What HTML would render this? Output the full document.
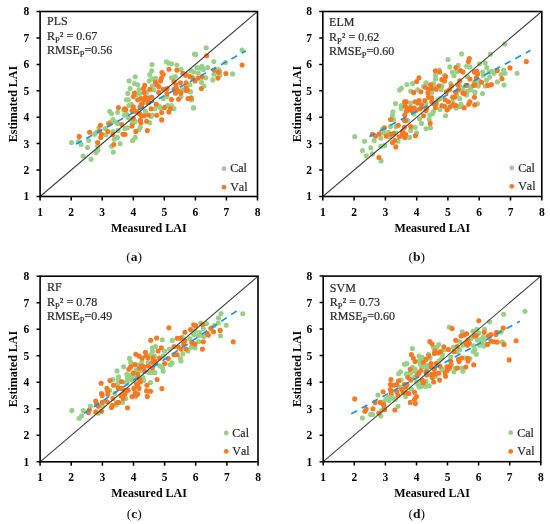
<!DOCTYPE html>
<html><head><meta charset="utf-8"><title>LAI scatter plots</title>
<style>
html,body{margin:0;padding:0;background:#fff;}
svg{display:block;}
text{font-family:"Liberation Serif","DejaVu Serif",serif;font-kerning:none;}
.tk{font-size:11.5px;font-weight:bold;fill:#000;}
.ax{font-size:12px;font-weight:bold;fill:#000;}
.an{font-size:12px;fill:#2a2a2a;stroke:#2a2a2a;stroke-width:0.2px;}
.cp{font-size:13.5px;fill:#111;}
</style></head><body>
<svg width="550" height="524" viewBox="0 0 550 524">
<rect width="550" height="524" fill="#fff"/>

<g id="plot-a">
<g fill="#97D086"><circle cx="71.5" cy="142.5" r="2.55"/><circle cx="78.5" cy="141.6" r="2.55"/><circle cx="81.1" cy="144.4" r="2.55"/><circle cx="88.7" cy="140.5" r="2.55"/><circle cx="87.5" cy="147.5" r="2.55"/><circle cx="83.0" cy="156.1" r="2.55"/><circle cx="91.0" cy="159.3" r="2.55"/><circle cx="98.0" cy="150.1" r="2.55"/><circle cx="96.0" cy="152.6" r="2.55"/><circle cx="97.6" cy="146.3" r="2.55"/><circle cx="94.5" cy="134.2" r="2.55"/><circle cx="96.4" cy="132.3" r="2.55"/><circle cx="98.9" cy="127.8" r="2.55"/><circle cx="105.3" cy="128.5" r="2.55"/><circle cx="105.9" cy="134.8" r="2.55"/><circle cx="109.7" cy="111.3" r="2.55"/><circle cx="111.6" cy="113.8" r="2.55"/><circle cx="117.7" cy="112.3" r="2.55"/><circle cx="123.7" cy="110.0" r="2.55"/><circle cx="112.9" cy="119.5" r="2.55"/><circle cx="114.8" cy="121.5" r="2.55"/><circle cx="111.0" cy="122.1" r="2.55"/><circle cx="108.5" cy="123.4" r="2.55"/><circle cx="117.4" cy="123.4" r="2.55"/><circle cx="112.9" cy="131.6" r="2.55"/><circle cx="118.0" cy="130.4" r="2.55"/><circle cx="114.2" cy="139.3" r="2.55"/><circle cx="117.4" cy="137.4" r="2.55"/><circle cx="120.2" cy="143.7" r="2.55"/><circle cx="111.6" cy="146.3" r="2.55"/><circle cx="113.3" cy="152.0" r="2.55"/><circle cx="124.4" cy="115.1" r="2.55"/><circle cx="132.6" cy="140.5" r="2.55"/><circle cx="135.2" cy="137.4" r="2.55"/><circle cx="127.5" cy="127.8" r="2.55"/><circle cx="125.0" cy="128.5" r="2.55"/><circle cx="140.3" cy="127.2" r="2.55"/><circle cx="139.0" cy="129.7" r="2.55"/><circle cx="149.8" cy="122.7" r="2.55"/><circle cx="135.2" cy="121.5" r="2.55"/><circle cx="132.6" cy="123.4" r="2.55"/><circle cx="128.2" cy="117.6" r="2.55"/><circle cx="126.3" cy="113.8" r="2.55"/><circle cx="128.8" cy="105.5" r="2.55"/><circle cx="131.4" cy="104.3" r="2.55"/><circle cx="128.2" cy="99.8" r="2.55"/><circle cx="126.3" cy="99.8" r="2.55"/><circle cx="145.4" cy="111.3" r="2.55"/><circle cx="152.4" cy="115.1" r="2.55"/><circle cx="151.1" cy="116.4" r="2.55"/><circle cx="154.9" cy="108.7" r="2.55"/><circle cx="159.4" cy="106.2" r="2.55"/><circle cx="160.6" cy="108.1" r="2.55"/><circle cx="167.6" cy="105.5" r="2.55"/><circle cx="171.5" cy="105.5" r="2.55"/><circle cx="174.0" cy="108.5" r="2.55"/><circle cx="163.2" cy="98.5" r="2.55"/><circle cx="146.6" cy="102.4" r="2.55"/><circle cx="193.7" cy="107.8" r="2.55"/><circle cx="191.2" cy="99.8" r="2.55"/><circle cx="167.0" cy="96.6" r="2.55"/><circle cx="181.0" cy="96.6" r="2.55"/><circle cx="152.0" cy="64.6" r="2.55"/><circle cx="151.7" cy="70.7" r="2.55"/><circle cx="149.8" cy="74.5" r="2.55"/><circle cx="135.2" cy="76.8" r="2.55"/><circle cx="129.1" cy="80.9" r="2.55"/><circle cx="134.5" cy="83.5" r="2.55"/><circle cx="137.7" cy="84.7" r="2.55"/><circle cx="130.1" cy="88.5" r="2.55"/><circle cx="127.8" cy="93.4" r="2.55"/><circle cx="139.0" cy="89.8" r="2.55"/><circle cx="139.6" cy="93.6" r="2.55"/><circle cx="149.2" cy="80.9" r="2.55"/><circle cx="152.4" cy="79.0" r="2.55"/><circle cx="155.5" cy="78.4" r="2.55"/><circle cx="166.4" cy="61.8" r="2.55"/><circle cx="168.9" cy="63.3" r="2.55"/><circle cx="171.5" cy="63.7" r="2.55"/><circle cx="176.9" cy="65.0" r="2.55"/><circle cx="181.0" cy="69.5" r="2.55"/><circle cx="171.5" cy="77.7" r="2.55"/><circle cx="175.3" cy="76.5" r="2.55"/><circle cx="194.4" cy="54.2" r="2.55"/><circle cx="191.2" cy="70.7" r="2.55"/><circle cx="193.7" cy="72.0" r="2.55"/><circle cx="152.4" cy="86.0" r="2.55"/><circle cx="153.6" cy="89.8" r="2.55"/><circle cx="146.6" cy="92.4" r="2.55"/><circle cx="189.9" cy="84.7" r="2.55"/><circle cx="190.5" cy="91.7" r="2.55"/><circle cx="182.3" cy="89.8" r="2.55"/><circle cx="186.7" cy="74.5" r="2.55"/><circle cx="206.2" cy="47.8" r="2.55"/><circle cx="195.6" cy="54.4" r="2.55"/><circle cx="213.8" cy="61.6" r="2.55"/><circle cx="225.5" cy="62.5" r="2.55"/><circle cx="242.1" cy="50.1" r="2.55"/><circle cx="207.7" cy="67.5" r="2.55"/><circle cx="202.0" cy="66.3" r="2.55"/><circle cx="200.1" cy="68.2" r="2.55"/><circle cx="203.3" cy="69.5" r="2.55"/><circle cx="196.9" cy="67.5" r="2.55"/><circle cx="198.2" cy="73.0" r="2.55"/><circle cx="205.8" cy="77.7" r="2.55"/><circle cx="218.5" cy="69.5" r="2.55"/><circle cx="219.8" cy="71.4" r="2.55"/><circle cx="214.1" cy="74.3" r="2.55"/><circle cx="219.8" cy="75.2" r="2.55"/><circle cx="212.8" cy="79.9" r="2.55"/><circle cx="232.5" cy="73.9" r="2.55"/><circle cx="201.4" cy="82.2" r="2.55"/><circle cx="203.9" cy="86.0" r="2.55"/><circle cx="193.5" cy="107.9" r="2.55"/><circle cx="190.1" cy="91.7" r="2.55"/><circle cx="191.4" cy="99.7" r="2.55"/><circle cx="136.8" cy="94.5" r="2.55"/><circle cx="130.5" cy="120.0" r="2.55"/></g>
<g fill="#F77922"><circle cx="79.2" cy="136.5" r="2.55"/><circle cx="89.6" cy="132.3" r="2.55"/><circle cx="100.4" cy="125.3" r="2.55"/><circle cx="99.5" cy="131.0" r="2.55"/><circle cx="101.5" cy="134.2" r="2.55"/><circle cx="100.8" cy="137.4" r="2.55"/><circle cx="97.6" cy="142.5" r="2.55"/><circle cx="109.1" cy="123.7" r="2.55"/><circle cx="107.8" cy="131.6" r="2.55"/><circle cx="112.9" cy="134.6" r="2.55"/><circle cx="113.8" cy="144.6" r="2.55"/><circle cx="118.4" cy="107.5" r="2.55"/><circle cx="121.8" cy="124.6" r="2.55"/><circle cx="123.1" cy="134.2" r="2.55"/><circle cx="124.7" cy="108.7" r="2.55"/><circle cx="125.6" cy="109.4" r="2.55"/><circle cx="133.3" cy="106.8" r="2.55"/><circle cx="133.9" cy="110.0" r="2.55"/><circle cx="132.0" cy="110.6" r="2.55"/><circle cx="133.3" cy="118.3" r="2.55"/><circle cx="132.0" cy="125.9" r="2.55"/><circle cx="135.8" cy="131.4" r="2.55"/><circle cx="125.0" cy="134.2" r="2.55"/><circle cx="140.3" cy="120.2" r="2.55"/><circle cx="140.9" cy="122.7" r="2.55"/><circle cx="146.6" cy="121.2" r="2.55"/><circle cx="147.3" cy="130.6" r="2.55"/><circle cx="139.6" cy="113.8" r="2.55"/><circle cx="141.5" cy="115.7" r="2.55"/><circle cx="144.1" cy="115.7" r="2.55"/><circle cx="148.5" cy="115.1" r="2.55"/><circle cx="156.8" cy="115.3" r="2.55"/><circle cx="161.7" cy="112.5" r="2.55"/><circle cx="161.7" cy="119.9" r="2.55"/><circle cx="151.1" cy="108.7" r="2.55"/><circle cx="156.2" cy="104.3" r="2.55"/><circle cx="164.5" cy="107.5" r="2.55"/><circle cx="168.9" cy="111.9" r="2.55"/><circle cx="170.2" cy="108.7" r="2.55"/><circle cx="171.5" cy="99.6" r="2.55"/><circle cx="178.5" cy="99.2" r="2.55"/><circle cx="188.0" cy="98.5" r="2.55"/><circle cx="191.2" cy="97.9" r="2.55"/><circle cx="137.7" cy="99.8" r="2.55"/><circle cx="140.9" cy="98.5" r="2.55"/><circle cx="144.1" cy="99.8" r="2.55"/><circle cx="142.2" cy="103.6" r="2.55"/><circle cx="145.4" cy="97.3" r="2.55"/><circle cx="149.2" cy="97.9" r="2.55"/><circle cx="151.7" cy="97.3" r="2.55"/><circle cx="141.5" cy="106.2" r="2.55"/><circle cx="148.5" cy="102.4" r="2.55"/><circle cx="133.3" cy="96.6" r="2.55"/><circle cx="168.9" cy="69.2" r="2.55"/><circle cx="176.9" cy="70.1" r="2.55"/><circle cx="161.9" cy="72.6" r="2.55"/><circle cx="163.2" cy="74.5" r="2.55"/><circle cx="161.3" cy="78.4" r="2.55"/><circle cx="160.6" cy="80.9" r="2.55"/><circle cx="155.5" cy="82.2" r="2.55"/><circle cx="156.8" cy="84.7" r="2.55"/><circle cx="158.7" cy="86.6" r="2.55"/><circle cx="144.7" cy="85.4" r="2.55"/><circle cx="143.5" cy="88.5" r="2.55"/><circle cx="144.1" cy="92.4" r="2.55"/><circle cx="149.8" cy="89.2" r="2.55"/><circle cx="134.5" cy="93.0" r="2.55"/><circle cx="158.7" cy="92.4" r="2.55"/><circle cx="163.2" cy="89.2" r="2.55"/><circle cx="167.0" cy="88.5" r="2.55"/><circle cx="174.0" cy="81.5" r="2.55"/><circle cx="175.9" cy="84.7" r="2.55"/><circle cx="180.4" cy="82.8" r="2.55"/><circle cx="182.9" cy="73.3" r="2.55"/><circle cx="185.5" cy="75.2" r="2.55"/><circle cx="189.9" cy="76.5" r="2.55"/><circle cx="192.5" cy="77.7" r="2.55"/><circle cx="186.1" cy="82.8" r="2.55"/><circle cx="186.1" cy="87.9" r="2.55"/><circle cx="174.0" cy="89.2" r="2.55"/><circle cx="177.2" cy="91.1" r="2.55"/><circle cx="167.0" cy="93.6" r="2.55"/><circle cx="181.0" cy="93.0" r="2.55"/><circle cx="187.4" cy="89.8" r="2.55"/><circle cx="206.7" cy="55.8" r="2.55"/><circle cx="242.1" cy="65.0" r="2.55"/><circle cx="214.1" cy="70.1" r="2.55"/><circle cx="218.5" cy="72.3" r="2.55"/><circle cx="225.9" cy="73.5" r="2.55"/><circle cx="217.9" cy="78.1" r="2.55"/><circle cx="202.0" cy="77.1" r="2.55"/><circle cx="198.2" cy="78.1" r="2.55"/><circle cx="195.0" cy="80.9" r="2.55"/><circle cx="201.4" cy="88.5" r="2.55"/><circle cx="186.3" cy="90.5" r="2.55"/><circle cx="141.4" cy="104.5" r="2.55"/><circle cx="140.0" cy="106.8" r="2.55"/><circle cx="134.1" cy="110.9" r="2.55"/><circle cx="136.8" cy="111.8" r="2.55"/><circle cx="176.4" cy="88.6" r="2.55"/><circle cx="175.5" cy="93.2" r="2.55"/><circle cx="178.2" cy="91.4" r="2.55"/></g>
<line x1="76.0" y1="144.1" x2="245.9" y2="51.0" stroke="#1C94DC" stroke-width="1.7" stroke-dasharray="6.5 5.31"/>
<line x1="40.1" y1="196.5" x2="257.5" y2="11.5" stroke="#404040" stroke-width="1.1"/>
<rect x="40.1" y="11.5" width="217.4" height="185.0" fill="none" stroke="#000" stroke-width="1.6"/>
<path d="M40.1 196.5 v3.9 M40.1 196.5 h-3.6 M71.2 196.5 v3.9 M40.1 170.1 h-3.6 M102.2 196.5 v3.9 M40.1 143.6 h-3.6 M133.3 196.5 v3.9 M40.1 117.2 h-3.6 M164.3 196.5 v3.9 M40.1 90.8 h-3.6 M195.4 196.5 v3.9 M40.1 64.4 h-3.6 M226.4 196.5 v3.9 M40.1 37.9 h-3.6 M257.5 196.5 v3.9 M40.1 11.5 h-3.6" stroke="#000" stroke-width="1.5" fill="none"/>
<text class="tk" x="40.1" y="215.5" text-anchor="middle">1</text>
<text class="tk" x="29.2" y="200.4" text-anchor="end">1</text>
<text class="tk" x="71.2" y="215.5" text-anchor="middle">2</text>
<text class="tk" x="29.2" y="174.0" text-anchor="end">2</text>
<text class="tk" x="102.2" y="215.5" text-anchor="middle">3</text>
<text class="tk" x="29.2" y="147.5" text-anchor="end">3</text>
<text class="tk" x="133.3" y="215.5" text-anchor="middle">4</text>
<text class="tk" x="29.2" y="121.1" text-anchor="end">4</text>
<text class="tk" x="164.3" y="215.5" text-anchor="middle">5</text>
<text class="tk" x="29.2" y="94.7" text-anchor="end">5</text>
<text class="tk" x="195.4" y="215.5" text-anchor="middle">6</text>
<text class="tk" x="29.2" y="68.3" text-anchor="end">6</text>
<text class="tk" x="226.4" y="215.5" text-anchor="middle">7</text>
<text class="tk" x="29.2" y="41.8" text-anchor="end">7</text>
<text class="tk" x="257.5" y="215.5" text-anchor="middle">8</text>
<text class="tk" x="29.2" y="15.4" text-anchor="end">8</text>
<text class="ax" x="148.8" y="231.6" text-anchor="middle" word-spacing="0">Measured LAI</text>
<text class="ax" transform="translate(17.3,104.0) rotate(-90)" text-anchor="middle" word-spacing="0">Estimated LAI</text>
<text class="an" x="47.1" y="25.0">PLS</text>
<text class="an" x="47.1" y="39.9">R<tspan font-size="8.5px" dy="3">P</tspan><tspan dy="-3">² = 0.67</tspan></text>
<text class="an" x="47.1" y="54.1">RMSE<tspan font-size="8.5px" dy="3">P</tspan><tspan dy="-3">=0.56</tspan></text>
<circle cx="224.0" cy="168.7" r="2.4" fill="#97D086"/><circle cx="224.0" cy="187.2" r="2.4" fill="#F77922"/>
<text class="an" x="230.2" y="172.2">Cal</text><text class="an" x="230.2" y="190.9">Val</text>
<text class="cp" x="134.1" y="260.6" text-anchor="middle">(<tspan font-weight="bold">a</tspan>)</text>
</g>
<g id="plot-b">
<g fill="#97D086"><circle cx="354.7" cy="136.5" r="2.55"/><circle cx="364.5" cy="141.2" r="2.55"/><circle cx="362.4" cy="150.5" r="2.55"/><circle cx="366.2" cy="155.8" r="2.55"/><circle cx="370.9" cy="147.9" r="2.55"/><circle cx="372.5" cy="153.9" r="2.55"/><circle cx="374.2" cy="140.5" r="2.55"/><circle cx="380.8" cy="138.3" r="2.55"/><circle cx="380.8" cy="146.3" r="2.55"/><circle cx="384.6" cy="145.6" r="2.55"/><circle cx="381.1" cy="160.9" r="2.55"/><circle cx="382.7" cy="129.1" r="2.55"/><circle cx="384.0" cy="132.9" r="2.55"/><circle cx="388.5" cy="132.3" r="2.55"/><circle cx="390.4" cy="126.5" r="2.55"/><circle cx="392.9" cy="111.9" r="2.55"/><circle cx="392.3" cy="115.7" r="2.55"/><circle cx="395.5" cy="103.6" r="2.55"/><circle cx="401.2" cy="105.5" r="2.55"/><circle cx="401.2" cy="108.5" r="2.55"/><circle cx="393.5" cy="119.5" r="2.55"/><circle cx="396.1" cy="126.5" r="2.55"/><circle cx="398.0" cy="141.2" r="2.55"/><circle cx="395.5" cy="132.9" r="2.55"/><circle cx="389.7" cy="136.7" r="2.55"/><circle cx="404.4" cy="103.6" r="2.55"/><circle cx="409.5" cy="137.4" r="2.55"/><circle cx="410.7" cy="130.4" r="2.55"/><circle cx="415.2" cy="127.2" r="2.55"/><circle cx="416.5" cy="132.9" r="2.55"/><circle cx="419.6" cy="118.9" r="2.55"/><circle cx="421.5" cy="123.4" r="2.55"/><circle cx="426.0" cy="128.8" r="2.55"/><circle cx="430.5" cy="127.8" r="2.55"/><circle cx="429.2" cy="119.5" r="2.55"/><circle cx="429.8" cy="115.1" r="2.55"/><circle cx="432.4" cy="113.8" r="2.55"/><circle cx="433.6" cy="111.3" r="2.55"/><circle cx="440.0" cy="109.4" r="2.55"/><circle cx="445.5" cy="115.7" r="2.55"/><circle cx="455.9" cy="108.1" r="2.55"/><circle cx="459.7" cy="106.8" r="2.55"/><circle cx="461.0" cy="104.3" r="2.55"/><circle cx="452.7" cy="102.4" r="2.55"/><circle cx="459.7" cy="98.5" r="2.55"/><circle cx="410.7" cy="103.0" r="2.55"/><circle cx="407.5" cy="120.2" r="2.55"/><circle cx="438.1" cy="99.8" r="2.55"/><circle cx="440.0" cy="98.5" r="2.55"/><circle cx="426.0" cy="103.6" r="2.55"/><circle cx="413.9" cy="113.8" r="2.55"/><circle cx="448.3" cy="108.7" r="2.55"/><circle cx="461.6" cy="53.9" r="2.55"/><circle cx="448.0" cy="59.5" r="2.55"/><circle cx="449.8" cy="66.9" r="2.55"/><circle cx="458.2" cy="65.4" r="2.55"/><circle cx="452.3" cy="72.0" r="2.55"/><circle cx="454.0" cy="75.8" r="2.55"/><circle cx="457.2" cy="71.4" r="2.55"/><circle cx="466.7" cy="66.3" r="2.55"/><circle cx="469.9" cy="66.9" r="2.55"/><circle cx="435.5" cy="75.2" r="2.55"/><circle cx="435.5" cy="79.0" r="2.55"/><circle cx="439.4" cy="70.1" r="2.55"/><circle cx="406.9" cy="84.5" r="2.55"/><circle cx="412.6" cy="83.5" r="2.55"/><circle cx="410.7" cy="91.1" r="2.55"/><circle cx="417.7" cy="89.8" r="2.55"/><circle cx="426.0" cy="82.8" r="2.55"/><circle cx="423.5" cy="86.6" r="2.55"/><circle cx="433.6" cy="83.5" r="2.55"/><circle cx="434.3" cy="87.3" r="2.55"/><circle cx="440.6" cy="86.0" r="2.55"/><circle cx="441.3" cy="89.8" r="2.55"/><circle cx="444.5" cy="75.2" r="2.55"/><circle cx="467.4" cy="76.5" r="2.55"/><circle cx="450.8" cy="83.5" r="2.55"/><circle cx="471.2" cy="89.8" r="2.55"/><circle cx="459.7" cy="86.0" r="2.55"/><circle cx="431.7" cy="92.4" r="2.55"/><circle cx="474.4" cy="82.2" r="2.55"/><circle cx="504.7" cy="44.0" r="2.55"/><circle cx="490.3" cy="54.2" r="2.55"/><circle cx="479.5" cy="63.7" r="2.55"/><circle cx="485.2" cy="63.1" r="2.55"/><circle cx="486.7" cy="67.5" r="2.55"/><circle cx="482.6" cy="72.0" r="2.55"/><circle cx="483.3" cy="75.2" r="2.55"/><circle cx="489.0" cy="72.0" r="2.55"/><circle cx="491.5" cy="71.4" r="2.55"/><circle cx="494.1" cy="73.3" r="2.55"/><circle cx="503.6" cy="70.1" r="2.55"/><circle cx="504.9" cy="73.3" r="2.55"/><circle cx="501.1" cy="74.5" r="2.55"/><circle cx="517.0" cy="73.3" r="2.55"/><circle cx="489.6" cy="77.1" r="2.55"/><circle cx="486.5" cy="80.3" r="2.55"/><circle cx="497.3" cy="81.9" r="2.55"/><circle cx="504.0" cy="85.0" r="2.55"/><circle cx="478.2" cy="86.0" r="2.55"/><circle cx="485.2" cy="86.0" r="2.55"/><circle cx="482.6" cy="93.6" r="2.55"/><circle cx="475.0" cy="92.4" r="2.55"/><circle cx="478.8" cy="80.3" r="2.55"/><circle cx="477.5" cy="103.8" r="2.55"/><circle cx="401.5" cy="88.2" r="2.55"/><circle cx="399.5" cy="90.1" r="2.55"/><circle cx="462.7" cy="88.6" r="2.55"/><circle cx="467.3" cy="91.4" r="2.55"/><circle cx="470.0" cy="86.8" r="2.55"/><circle cx="466.4" cy="95.0" r="2.55"/><circle cx="441.8" cy="85.9" r="2.55"/><circle cx="456.4" cy="95.0" r="2.55"/><circle cx="478.2" cy="85.0" r="2.55"/></g>
<g fill="#F77922"><circle cx="372.5" cy="134.2" r="2.55"/><circle cx="375.7" cy="136.1" r="2.55"/><circle cx="379.3" cy="133.9" r="2.55"/><circle cx="384.4" cy="127.8" r="2.55"/><circle cx="386.2" cy="136.1" r="2.55"/><circle cx="390.6" cy="119.5" r="2.55"/><circle cx="391.0" cy="134.2" r="2.55"/><circle cx="393.5" cy="133.5" r="2.55"/><circle cx="398.3" cy="125.3" r="2.55"/><circle cx="392.5" cy="142.5" r="2.55"/><circle cx="394.8" cy="140.5" r="2.55"/><circle cx="395.8" cy="146.9" r="2.55"/><circle cx="378.9" cy="157.5" r="2.55"/><circle cx="399.3" cy="136.7" r="2.55"/><circle cx="402.5" cy="134.2" r="2.55"/><circle cx="404.4" cy="136.7" r="2.55"/><circle cx="402.5" cy="131.6" r="2.55"/><circle cx="404.4" cy="120.2" r="2.55"/><circle cx="404.7" cy="115.1" r="2.55"/><circle cx="404.7" cy="101.7" r="2.55"/><circle cx="404.4" cy="127.2" r="2.55"/><circle cx="405.6" cy="120.8" r="2.55"/><circle cx="410.7" cy="126.5" r="2.55"/><circle cx="405.6" cy="134.2" r="2.55"/><circle cx="405.0" cy="137.4" r="2.55"/><circle cx="415.4" cy="135.7" r="2.55"/><circle cx="430.2" cy="123.4" r="2.55"/><circle cx="423.5" cy="115.7" r="2.55"/><circle cx="426.0" cy="110.6" r="2.55"/><circle cx="426.6" cy="108.1" r="2.55"/><circle cx="435.5" cy="107.5" r="2.55"/><circle cx="436.2" cy="103.6" r="2.55"/><circle cx="441.9" cy="105.5" r="2.55"/><circle cx="444.5" cy="106.2" r="2.55"/><circle cx="447.0" cy="110.0" r="2.55"/><circle cx="450.2" cy="106.8" r="2.55"/><circle cx="453.4" cy="104.9" r="2.55"/><circle cx="455.9" cy="105.5" r="2.55"/><circle cx="464.2" cy="107.7" r="2.55"/><circle cx="468.6" cy="104.3" r="2.55"/><circle cx="469.9" cy="101.7" r="2.55"/><circle cx="474.7" cy="104.9" r="2.55"/><circle cx="474.4" cy="97.3" r="2.55"/><circle cx="445.1" cy="99.8" r="2.55"/><circle cx="448.3" cy="101.7" r="2.55"/><circle cx="452.7" cy="97.3" r="2.55"/><circle cx="454.6" cy="97.3" r="2.55"/><circle cx="406.3" cy="101.7" r="2.55"/><circle cx="407.5" cy="108.1" r="2.55"/><circle cx="410.7" cy="107.5" r="2.55"/><circle cx="413.9" cy="108.1" r="2.55"/><circle cx="409.5" cy="110.0" r="2.55"/><circle cx="406.3" cy="111.3" r="2.55"/><circle cx="412.0" cy="110.6" r="2.55"/><circle cx="416.5" cy="110.0" r="2.55"/><circle cx="415.2" cy="101.7" r="2.55"/><circle cx="417.7" cy="103.0" r="2.55"/><circle cx="419.0" cy="100.5" r="2.55"/><circle cx="421.5" cy="104.9" r="2.55"/><circle cx="424.7" cy="100.5" r="2.55"/><circle cx="428.5" cy="97.3" r="2.55"/><circle cx="431.7" cy="97.9" r="2.55"/><circle cx="431.7" cy="101.7" r="2.55"/><circle cx="433.6" cy="103.6" r="2.55"/><circle cx="420.3" cy="108.7" r="2.55"/><circle cx="405.0" cy="106.2" r="2.55"/><circle cx="469.3" cy="58.6" r="2.55"/><circle cx="468.4" cy="61.6" r="2.55"/><circle cx="455.9" cy="67.5" r="2.55"/><circle cx="460.4" cy="70.5" r="2.55"/><circle cx="462.9" cy="72.0" r="2.55"/><circle cx="435.3" cy="70.7" r="2.55"/><circle cx="439.6" cy="72.0" r="2.55"/><circle cx="419.0" cy="77.7" r="2.55"/><circle cx="416.7" cy="81.5" r="2.55"/><circle cx="445.7" cy="76.5" r="2.55"/><circle cx="441.9" cy="79.6" r="2.55"/><circle cx="444.5" cy="80.9" r="2.55"/><circle cx="430.5" cy="84.7" r="2.55"/><circle cx="425.4" cy="87.3" r="2.55"/><circle cx="428.5" cy="89.2" r="2.55"/><circle cx="438.7" cy="86.0" r="2.55"/><circle cx="436.2" cy="89.2" r="2.55"/><circle cx="431.7" cy="88.5" r="2.55"/><circle cx="413.7" cy="92.4" r="2.55"/><circle cx="420.9" cy="91.7" r="2.55"/><circle cx="427.9" cy="93.0" r="2.55"/><circle cx="469.9" cy="79.0" r="2.55"/><circle cx="459.7" cy="80.9" r="2.55"/><circle cx="457.8" cy="84.7" r="2.55"/><circle cx="451.5" cy="86.0" r="2.55"/><circle cx="466.1" cy="85.4" r="2.55"/><circle cx="473.7" cy="85.4" r="2.55"/><circle cx="446.4" cy="91.7" r="2.55"/><circle cx="449.5" cy="89.8" r="2.55"/><circle cx="455.9" cy="92.4" r="2.55"/><circle cx="458.5" cy="89.8" r="2.55"/><circle cx="462.9" cy="93.0" r="2.55"/><circle cx="464.2" cy="93.6" r="2.55"/><circle cx="474.4" cy="72.0" r="2.55"/><circle cx="526.3" cy="61.6" r="2.55"/><circle cx="510.0" cy="67.9" r="2.55"/><circle cx="497.3" cy="70.5" r="2.55"/><circle cx="502.0" cy="78.7" r="2.55"/><circle cx="476.9" cy="71.4" r="2.55"/><circle cx="477.5" cy="73.9" r="2.55"/><circle cx="475.0" cy="72.0" r="2.55"/><circle cx="481.6" cy="82.2" r="2.55"/><circle cx="487.7" cy="85.4" r="2.55"/><circle cx="491.5" cy="84.5" r="2.55"/><circle cx="476.3" cy="77.7" r="2.55"/><circle cx="475.0" cy="84.7" r="2.55"/></g>
<line x1="369.4" y1="136.5" x2="530.4" y2="50.6" stroke="#1C94DC" stroke-width="1.7" stroke-dasharray="6.5 5.31"/>
<line x1="322.8" y1="196.5" x2="541.8" y2="11.5" stroke="#404040" stroke-width="1.1"/>
<rect x="322.8" y="11.5" width="219.0" height="185.0" fill="none" stroke="#000" stroke-width="1.6"/>
<path d="M322.8 196.5 v3.9 M322.8 196.5 h-3.6 M354.1 196.5 v3.9 M322.8 170.1 h-3.6 M385.4 196.5 v3.9 M322.8 143.6 h-3.6 M416.7 196.5 v3.9 M322.8 117.2 h-3.6 M447.9 196.5 v3.9 M322.8 90.8 h-3.6 M479.2 196.5 v3.9 M322.8 64.4 h-3.6 M510.5 196.5 v3.9 M322.8 37.9 h-3.6 M541.8 196.5 v3.9 M322.8 11.5 h-3.6" stroke="#000" stroke-width="1.5" fill="none"/>
<text class="tk" x="322.8" y="215.5" text-anchor="middle">1</text>
<text class="tk" x="311.9" y="200.4" text-anchor="end">1</text>
<text class="tk" x="354.1" y="215.5" text-anchor="middle">2</text>
<text class="tk" x="311.9" y="174.0" text-anchor="end">2</text>
<text class="tk" x="385.4" y="215.5" text-anchor="middle">3</text>
<text class="tk" x="311.9" y="147.5" text-anchor="end">3</text>
<text class="tk" x="416.7" y="215.5" text-anchor="middle">4</text>
<text class="tk" x="311.9" y="121.1" text-anchor="end">4</text>
<text class="tk" x="447.9" y="215.5" text-anchor="middle">5</text>
<text class="tk" x="311.9" y="94.7" text-anchor="end">5</text>
<text class="tk" x="479.2" y="215.5" text-anchor="middle">6</text>
<text class="tk" x="311.9" y="68.3" text-anchor="end">6</text>
<text class="tk" x="510.5" y="215.5" text-anchor="middle">7</text>
<text class="tk" x="311.9" y="41.8" text-anchor="end">7</text>
<text class="tk" x="541.8" y="215.5" text-anchor="middle">8</text>
<text class="tk" x="311.9" y="15.4" text-anchor="end">8</text>
<text class="ax" x="432.3" y="231.6" text-anchor="middle" word-spacing="0">Measured LAI</text>
<text class="ax" transform="translate(300.9,104.0) rotate(-90)" text-anchor="middle" word-spacing="0">Estimated LAI</text>
<text class="an" x="329.1" y="25.9">ELM</text>
<text class="an" x="329.1" y="40.7">R<tspan font-size="8.5px" dy="3">P</tspan><tspan dy="-3">² = 0.62</tspan></text>
<text class="an" x="329.1" y="54.6">RMSE<tspan font-size="8.5px" dy="3">P</tspan><tspan dy="-3">=0.60</tspan></text>
<circle cx="511.8" cy="167.9" r="2.4" fill="#97D086"/><circle cx="511.8" cy="186.3" r="2.4" fill="#F77922"/>
<text class="an" x="518.2" y="171.5">Cal</text><text class="an" x="518.2" y="190.3">Val</text>
<text class="cp" x="416.8" y="260.6" text-anchor="middle">(<tspan font-weight="bold">b</tspan>)</text>
</g>
<g id="plot-c">
<g fill="#97D086"><circle cx="71.9" cy="410.4" r="2.55"/><circle cx="79.2" cy="418.3" r="2.55"/><circle cx="81.7" cy="415.7" r="2.55"/><circle cx="83.3" cy="410.6" r="2.55"/><circle cx="90.4" cy="406.2" r="2.55"/><circle cx="98.3" cy="413.2" r="2.55"/><circle cx="117.0" cy="370.9" r="2.55"/><circle cx="118.6" cy="376.9" r="2.55"/><circle cx="118.3" cy="379.5" r="2.55"/><circle cx="123.7" cy="366.7" r="2.55"/><circle cx="112.9" cy="379.5" r="2.55"/><circle cx="117.4" cy="383.9" r="2.55"/><circle cx="122.5" cy="402.4" r="2.55"/><circle cx="109.7" cy="390.3" r="2.55"/><circle cx="116.1" cy="404.9" r="2.55"/><circle cx="102.7" cy="406.2" r="2.55"/><circle cx="114.8" cy="393.5" r="2.55"/><circle cx="150.5" cy="382.6" r="2.55"/><circle cx="143.5" cy="380.7" r="2.55"/><circle cx="142.8" cy="377.5" r="2.55"/><circle cx="127.5" cy="377.5" r="2.55"/><circle cx="130.7" cy="375.6" r="2.55"/><circle cx="126.9" cy="374.4" r="2.55"/><circle cx="125.0" cy="382.0" r="2.55"/><circle cx="125.6" cy="398.5" r="2.55"/><circle cx="154.9" cy="372.5" r="2.55"/><circle cx="151.7" cy="372.5" r="2.55"/><circle cx="149.2" cy="372.5" r="2.55"/><circle cx="163.2" cy="371.2" r="2.55"/><circle cx="162.5" cy="368.0" r="2.55"/><circle cx="160.0" cy="366.1" r="2.55"/><circle cx="170.2" cy="364.8" r="2.55"/><circle cx="172.1" cy="362.9" r="2.55"/><circle cx="130.7" cy="362.3" r="2.55"/><circle cx="136.5" cy="369.9" r="2.55"/><circle cx="140.3" cy="370.5" r="2.55"/><circle cx="127.5" cy="381.4" r="2.55"/><circle cx="181.0" cy="361.0" r="2.55"/><circle cx="131.4" cy="380.1" r="2.55"/><circle cx="156.2" cy="363.5" r="2.55"/><circle cx="162.2" cy="339.8" r="2.55"/><circle cx="172.3" cy="340.4" r="2.55"/><circle cx="152.4" cy="347.8" r="2.55"/><circle cx="155.5" cy="346.5" r="2.55"/><circle cx="152.4" cy="351.6" r="2.55"/><circle cx="150.5" cy="354.8" r="2.55"/><circle cx="129.5" cy="358.4" r="2.55"/><circle cx="182.9" cy="353.9" r="2.55"/><circle cx="180.4" cy="358.6" r="2.55"/><circle cx="169.5" cy="349.1" r="2.55"/><circle cx="189.9" cy="338.9" r="2.55"/><circle cx="193.7" cy="334.5" r="2.55"/><circle cx="182.3" cy="337.0" r="2.55"/><circle cx="164.5" cy="351.0" r="2.55"/><circle cx="191.2" cy="347.2" r="2.55"/><circle cx="194.4" cy="345.9" r="2.55"/><circle cx="154.3" cy="356.1" r="2.55"/><circle cx="163.2" cy="356.1" r="2.55"/><circle cx="188.0" cy="351.0" r="2.55"/><circle cx="242.7" cy="313.8" r="2.55"/><circle cx="221.1" cy="313.5" r="2.55"/><circle cx="218.5" cy="317.9" r="2.55"/><circle cx="218.2" cy="323.0" r="2.55"/><circle cx="226.2" cy="325.3" r="2.55"/><circle cx="214.1" cy="325.5" r="2.55"/><circle cx="206.5" cy="323.6" r="2.55"/><circle cx="200.7" cy="323.0" r="2.55"/><circle cx="203.3" cy="328.7" r="2.55"/><circle cx="199.5" cy="332.5" r="2.55"/><circle cx="201.4" cy="335.1" r="2.55"/><circle cx="198.2" cy="335.7" r="2.55"/><circle cx="203.9" cy="336.4" r="2.55"/><circle cx="220.5" cy="335.7" r="2.55"/><circle cx="198.8" cy="341.5" r="2.55"/><circle cx="195.0" cy="347.8" r="2.55"/><circle cx="195.0" cy="330.6" r="2.55"/><circle cx="148.2" cy="362.7" r="2.55"/><circle cx="138.2" cy="365.0" r="2.55"/><circle cx="141.8" cy="361.8" r="2.55"/><circle cx="133.6" cy="377.3" r="2.55"/><circle cx="129.1" cy="379.1" r="2.55"/><circle cx="143.2" cy="379.1" r="2.55"/></g>
<g fill="#F77922"><circle cx="88.3" cy="412.5" r="2.55"/><circle cx="89.4" cy="410.0" r="2.55"/><circle cx="95.7" cy="411.9" r="2.55"/><circle cx="101.5" cy="411.3" r="2.55"/><circle cx="95.7" cy="401.1" r="2.55"/><circle cx="96.4" cy="403.6" r="2.55"/><circle cx="98.3" cy="406.2" r="2.55"/><circle cx="102.3" cy="402.4" r="2.55"/><circle cx="107.2" cy="401.7" r="2.55"/><circle cx="101.5" cy="393.5" r="2.55"/><circle cx="102.1" cy="395.4" r="2.55"/><circle cx="106.9" cy="388.4" r="2.55"/><circle cx="107.8" cy="391.5" r="2.55"/><circle cx="107.8" cy="394.3" r="2.55"/><circle cx="101.1" cy="383.3" r="2.55"/><circle cx="110.0" cy="380.5" r="2.55"/><circle cx="113.5" cy="385.2" r="2.55"/><circle cx="118.0" cy="387.7" r="2.55"/><circle cx="121.2" cy="388.4" r="2.55"/><circle cx="121.6" cy="381.7" r="2.55"/><circle cx="112.9" cy="398.5" r="2.55"/><circle cx="111.6" cy="407.5" r="2.55"/><circle cx="112.3" cy="405.5" r="2.55"/><circle cx="116.7" cy="402.7" r="2.55"/><circle cx="118.6" cy="402.4" r="2.55"/><circle cx="121.2" cy="396.0" r="2.55"/><circle cx="123.1" cy="398.5" r="2.55"/><circle cx="123.7" cy="394.1" r="2.55"/><circle cx="124.4" cy="390.3" r="2.55"/><circle cx="127.5" cy="407.8" r="2.55"/><circle cx="161.9" cy="388.6" r="2.55"/><circle cx="157.1" cy="379.5" r="2.55"/><circle cx="146.9" cy="385.2" r="2.55"/><circle cx="146.6" cy="390.9" r="2.55"/><circle cx="150.5" cy="391.3" r="2.55"/><circle cx="147.3" cy="396.4" r="2.55"/><circle cx="132.0" cy="396.6" r="2.55"/><circle cx="135.8" cy="396.0" r="2.55"/><circle cx="137.7" cy="394.1" r="2.55"/><circle cx="135.2" cy="392.8" r="2.55"/><circle cx="133.9" cy="388.4" r="2.55"/><circle cx="139.0" cy="388.4" r="2.55"/><circle cx="137.7" cy="385.8" r="2.55"/><circle cx="140.3" cy="382.0" r="2.55"/><circle cx="139.6" cy="379.5" r="2.55"/><circle cx="136.5" cy="383.9" r="2.55"/><circle cx="125.6" cy="391.5" r="2.55"/><circle cx="125.0" cy="394.1" r="2.55"/><circle cx="133.3" cy="373.1" r="2.55"/><circle cx="137.7" cy="374.4" r="2.55"/><circle cx="128.8" cy="369.3" r="2.55"/><circle cx="130.7" cy="366.7" r="2.55"/><circle cx="134.9" cy="364.6" r="2.55"/><circle cx="139.6" cy="368.0" r="2.55"/><circle cx="141.5" cy="366.1" r="2.55"/><circle cx="144.1" cy="366.7" r="2.55"/><circle cx="144.7" cy="371.2" r="2.55"/><circle cx="148.5" cy="366.1" r="2.55"/><circle cx="152.4" cy="368.0" r="2.55"/><circle cx="152.4" cy="362.3" r="2.55"/><circle cx="154.9" cy="361.0" r="2.55"/><circle cx="164.7" cy="363.5" r="2.55"/><circle cx="128.2" cy="390.3" r="2.55"/><circle cx="168.9" cy="327.8" r="2.55"/><circle cx="156.6" cy="338.0" r="2.55"/><circle cx="150.7" cy="340.2" r="2.55"/><circle cx="161.3" cy="347.8" r="2.55"/><circle cx="158.1" cy="351.0" r="2.55"/><circle cx="145.4" cy="352.3" r="2.55"/><circle cx="146.0" cy="355.5" r="2.55"/><circle cx="135.8" cy="354.2" r="2.55"/><circle cx="139.0" cy="356.1" r="2.55"/><circle cx="142.2" cy="358.0" r="2.55"/><circle cx="147.9" cy="358.0" r="2.55"/><circle cx="153.0" cy="358.0" r="2.55"/><circle cx="159.4" cy="358.0" r="2.55"/><circle cx="177.2" cy="338.3" r="2.55"/><circle cx="180.4" cy="338.3" r="2.55"/><circle cx="184.8" cy="332.2" r="2.55"/><circle cx="190.5" cy="329.6" r="2.55"/><circle cx="193.7" cy="324.9" r="2.55"/><circle cx="184.8" cy="340.8" r="2.55"/><circle cx="174.0" cy="346.5" r="2.55"/><circle cx="178.5" cy="347.2" r="2.55"/><circle cx="181.0" cy="349.1" r="2.55"/><circle cx="186.1" cy="349.1" r="2.55"/><circle cx="191.8" cy="342.7" r="2.55"/><circle cx="194.4" cy="344.0" r="2.55"/><circle cx="174.0" cy="354.8" r="2.55"/><circle cx="177.2" cy="354.8" r="2.55"/><circle cx="168.3" cy="358.6" r="2.55"/><circle cx="183.5" cy="344.0" r="2.55"/><circle cx="233.2" cy="341.8" r="2.55"/><circle cx="220.2" cy="330.4" r="2.55"/><circle cx="210.9" cy="328.3" r="2.55"/><circle cx="213.5" cy="331.7" r="2.55"/><circle cx="207.1" cy="333.2" r="2.55"/><circle cx="208.4" cy="335.1" r="2.55"/><circle cx="202.6" cy="324.5" r="2.55"/><circle cx="195.6" cy="325.5" r="2.55"/><circle cx="203.3" cy="341.8" r="2.55"/><circle cx="202.4" cy="349.1" r="2.55"/><circle cx="195.0" cy="344.0" r="2.55"/></g>
<line x1="84.1" y1="413.4" x2="237.6" y2="310.3" stroke="#1C94DC" stroke-width="1.7" stroke-dasharray="6.5 5.31"/>
<line x1="40.1" y1="461.8" x2="258.0" y2="276.2" stroke="#404040" stroke-width="1.1"/>
<rect x="40.1" y="276.2" width="217.9" height="185.6" fill="none" stroke="#000" stroke-width="1.6"/>
<path d="M40.1 461.8 v3.9 M40.1 461.8 h-3.6 M71.2 461.8 v3.9 M40.1 435.3 h-3.6 M102.4 461.8 v3.9 M40.1 408.8 h-3.6 M133.5 461.8 v3.9 M40.1 382.3 h-3.6 M164.6 461.8 v3.9 M40.1 355.7 h-3.6 M195.7 461.8 v3.9 M40.1 329.2 h-3.6 M226.9 461.8 v3.9 M40.1 302.7 h-3.6 M258.0 461.8 v3.9 M40.1 276.2 h-3.6" stroke="#000" stroke-width="1.5" fill="none"/>
<text class="tk" x="40.1" y="480.8" text-anchor="middle">1</text>
<text class="tk" x="29.2" y="465.7" text-anchor="end">1</text>
<text class="tk" x="71.2" y="480.8" text-anchor="middle">2</text>
<text class="tk" x="29.2" y="439.2" text-anchor="end">2</text>
<text class="tk" x="102.4" y="480.8" text-anchor="middle">3</text>
<text class="tk" x="29.2" y="412.7" text-anchor="end">3</text>
<text class="tk" x="133.5" y="480.8" text-anchor="middle">4</text>
<text class="tk" x="29.2" y="386.2" text-anchor="end">4</text>
<text class="tk" x="164.6" y="480.8" text-anchor="middle">5</text>
<text class="tk" x="29.2" y="359.6" text-anchor="end">5</text>
<text class="tk" x="195.7" y="480.8" text-anchor="middle">6</text>
<text class="tk" x="29.2" y="333.1" text-anchor="end">6</text>
<text class="tk" x="226.9" y="480.8" text-anchor="middle">7</text>
<text class="tk" x="29.2" y="306.6" text-anchor="end">7</text>
<text class="tk" x="258.0" y="480.8" text-anchor="middle">8</text>
<text class="tk" x="29.2" y="280.1" text-anchor="end">8</text>
<text class="ax" x="149.1" y="496.7" text-anchor="middle" word-spacing="0">Measured LAI</text>
<text class="ax" transform="translate(17.3,369.0) rotate(-90)" text-anchor="middle" word-spacing="0">Estimated LAI</text>
<text class="an" x="47.1" y="290.8">RF</text>
<text class="an" x="47.1" y="305.5">R<tspan font-size="8.5px" dy="3">P</tspan><tspan dy="-3">² = 0.78</tspan></text>
<text class="an" x="47.1" y="319.6">RMSE<tspan font-size="8.5px" dy="3">P</tspan><tspan dy="-3">=0.49</tspan></text>
<circle cx="226.2" cy="433.0" r="2.4" fill="#97D086"/><circle cx="226.2" cy="451.3" r="2.4" fill="#F77922"/>
<text class="an" x="232.3" y="436.8">Cal</text><text class="an" x="232.3" y="455.3">Val</text>
<text class="cp" x="134.2" y="518.1" text-anchor="middle">(<tspan font-weight="bold">c</tspan>)</text>
</g>
<g id="plot-d">
<g fill="#97D086"><circle cx="362.4" cy="418.0" r="2.55"/><circle cx="370.6" cy="414.5" r="2.55"/><circle cx="372.5" cy="414.5" r="2.55"/><circle cx="380.8" cy="416.0" r="2.55"/><circle cx="381.5" cy="410.6" r="2.55"/><circle cx="378.0" cy="395.0" r="2.55"/><circle cx="398.0" cy="406.2" r="2.55"/><circle cx="400.5" cy="371.8" r="2.55"/><circle cx="398.6" cy="373.7" r="2.55"/><circle cx="385.9" cy="399.2" r="2.55"/><circle cx="389.1" cy="400.5" r="2.55"/><circle cx="392.3" cy="397.9" r="2.55"/><circle cx="388.5" cy="397.3" r="2.55"/><circle cx="391.6" cy="395.4" r="2.55"/><circle cx="401.2" cy="380.1" r="2.55"/><circle cx="399.9" cy="387.1" r="2.55"/><circle cx="384.0" cy="401.7" r="2.55"/><circle cx="404.4" cy="364.2" r="2.55"/><circle cx="395.5" cy="399.2" r="2.55"/><circle cx="406.9" cy="363.5" r="2.55"/><circle cx="412.6" cy="367.4" r="2.55"/><circle cx="415.2" cy="369.3" r="2.55"/><circle cx="406.3" cy="373.7" r="2.55"/><circle cx="410.1" cy="373.1" r="2.55"/><circle cx="417.7" cy="383.9" r="2.55"/><circle cx="419.0" cy="387.1" r="2.55"/><circle cx="416.5" cy="382.0" r="2.55"/><circle cx="425.4" cy="386.5" r="2.55"/><circle cx="429.2" cy="385.8" r="2.55"/><circle cx="426.0" cy="381.4" r="2.55"/><circle cx="405.6" cy="396.6" r="2.55"/><circle cx="421.5" cy="366.1" r="2.55"/><circle cx="424.7" cy="366.7" r="2.55"/><circle cx="427.3" cy="368.6" r="2.55"/><circle cx="441.9" cy="369.3" r="2.55"/><circle cx="454.0" cy="371.8" r="2.55"/><circle cx="455.3" cy="368.6" r="2.55"/><circle cx="461.6" cy="368.0" r="2.55"/><circle cx="462.9" cy="371.2" r="2.55"/><circle cx="451.5" cy="364.8" r="2.55"/><circle cx="435.5" cy="376.3" r="2.55"/><circle cx="413.9" cy="377.5" r="2.55"/><circle cx="430.5" cy="375.0" r="2.55"/><circle cx="411.4" cy="389.0" r="2.55"/><circle cx="449.2" cy="327.1" r="2.55"/><circle cx="412.4" cy="348.5" r="2.55"/><circle cx="462.3" cy="331.9" r="2.55"/><circle cx="473.1" cy="331.3" r="2.55"/><circle cx="438.7" cy="344.6" r="2.55"/><circle cx="436.8" cy="347.2" r="2.55"/><circle cx="433.6" cy="347.2" r="2.55"/><circle cx="419.0" cy="356.1" r="2.55"/><circle cx="422.2" cy="357.4" r="2.55"/><circle cx="428.5" cy="354.2" r="2.55"/><circle cx="444.5" cy="349.7" r="2.55"/><circle cx="453.4" cy="347.2" r="2.55"/><circle cx="459.7" cy="341.5" r="2.55"/><circle cx="459.7" cy="349.7" r="2.55"/><circle cx="457.2" cy="351.6" r="2.55"/><circle cx="462.9" cy="345.3" r="2.55"/><circle cx="473.7" cy="345.9" r="2.55"/><circle cx="473.1" cy="351.6" r="2.55"/><circle cx="450.8" cy="357.4" r="2.55"/><circle cx="464.8" cy="358.0" r="2.55"/><circle cx="442.5" cy="354.8" r="2.55"/><circle cx="471.2" cy="338.3" r="2.55"/><circle cx="469.9" cy="358.6" r="2.55"/><circle cx="525.0" cy="311.3" r="2.55"/><circle cx="503.6" cy="314.3" r="2.55"/><circle cx="489.6" cy="321.7" r="2.55"/><circle cx="484.5" cy="329.4" r="2.55"/><circle cx="476.9" cy="329.4" r="2.55"/><circle cx="478.8" cy="333.2" r="2.55"/><circle cx="501.1" cy="331.9" r="2.55"/><circle cx="483.3" cy="337.0" r="2.55"/><circle cx="480.7" cy="339.5" r="2.55"/><circle cx="477.5" cy="340.2" r="2.55"/><circle cx="483.9" cy="340.2" r="2.55"/><circle cx="482.0" cy="343.4" r="2.55"/><circle cx="479.5" cy="345.3" r="2.55"/><circle cx="483.9" cy="345.9" r="2.55"/><circle cx="502.4" cy="342.1" r="2.55"/><circle cx="476.3" cy="354.2" r="2.55"/><circle cx="475.0" cy="349.7" r="2.55"/><circle cx="475.6" cy="337.0" r="2.55"/><circle cx="419.5" cy="360.9" r="2.55"/><circle cx="420.5" cy="364.5" r="2.55"/><circle cx="427.3" cy="365.5" r="2.55"/><circle cx="410.9" cy="372.7" r="2.55"/><circle cx="415.5" cy="371.8" r="2.55"/><circle cx="419.5" cy="381.8" r="2.55"/><circle cx="420.9" cy="386.4" r="2.55"/><circle cx="441.8" cy="358.2" r="2.55"/><circle cx="439.1" cy="360.9" r="2.55"/><circle cx="442.7" cy="369.5" r="2.55"/><circle cx="430.0" cy="358.2" r="2.55"/><circle cx="407.3" cy="376.4" r="2.55"/></g>
<g fill="#F77922"><circle cx="354.7" cy="398.9" r="2.55"/><circle cx="364.9" cy="411.3" r="2.55"/><circle cx="366.2" cy="409.1" r="2.55"/><circle cx="372.9" cy="408.7" r="2.55"/><circle cx="378.9" cy="413.2" r="2.55"/><circle cx="375.1" cy="402.4" r="2.55"/><circle cx="380.2" cy="402.4" r="2.55"/><circle cx="383.4" cy="404.3" r="2.55"/><circle cx="384.0" cy="406.2" r="2.55"/><circle cx="384.6" cy="409.4" r="2.55"/><circle cx="383.1" cy="391.8" r="2.55"/><circle cx="394.8" cy="410.0" r="2.55"/><circle cx="391.0" cy="379.5" r="2.55"/><circle cx="398.6" cy="380.7" r="2.55"/><circle cx="390.4" cy="384.5" r="2.55"/><circle cx="393.5" cy="385.2" r="2.55"/><circle cx="396.7" cy="384.5" r="2.55"/><circle cx="390.4" cy="389.6" r="2.55"/><circle cx="391.0" cy="392.8" r="2.55"/><circle cx="396.7" cy="391.5" r="2.55"/><circle cx="398.0" cy="395.4" r="2.55"/><circle cx="401.8" cy="389.6" r="2.55"/><circle cx="403.1" cy="392.8" r="2.55"/><circle cx="404.4" cy="384.5" r="2.55"/><circle cx="410.3" cy="369.3" r="2.55"/><circle cx="408.2" cy="377.5" r="2.55"/><circle cx="410.7" cy="380.1" r="2.55"/><circle cx="405.6" cy="387.1" r="2.55"/><circle cx="406.9" cy="384.5" r="2.55"/><circle cx="405.6" cy="392.8" r="2.55"/><circle cx="408.8" cy="393.5" r="2.55"/><circle cx="414.5" cy="392.2" r="2.55"/><circle cx="416.5" cy="396.6" r="2.55"/><circle cx="414.5" cy="399.2" r="2.55"/><circle cx="410.3" cy="402.4" r="2.55"/><circle cx="415.4" cy="403.6" r="2.55"/><circle cx="422.2" cy="380.1" r="2.55"/><circle cx="423.5" cy="382.6" r="2.55"/><circle cx="419.0" cy="373.1" r="2.55"/><circle cx="420.9" cy="370.5" r="2.55"/><circle cx="417.1" cy="375.6" r="2.55"/><circle cx="426.0" cy="371.8" r="2.55"/><circle cx="426.6" cy="375.0" r="2.55"/><circle cx="431.7" cy="374.4" r="2.55"/><circle cx="432.4" cy="377.5" r="2.55"/><circle cx="435.5" cy="373.7" r="2.55"/><circle cx="433.6" cy="382.0" r="2.55"/><circle cx="439.6" cy="380.1" r="2.55"/><circle cx="438.7" cy="373.1" r="2.55"/><circle cx="445.5" cy="376.3" r="2.55"/><circle cx="445.1" cy="373.1" r="2.55"/><circle cx="431.1" cy="363.5" r="2.55"/><circle cx="431.1" cy="366.7" r="2.55"/><circle cx="436.2" cy="363.5" r="2.55"/><circle cx="440.0" cy="366.1" r="2.55"/><circle cx="434.3" cy="369.3" r="2.55"/><circle cx="447.0" cy="366.7" r="2.55"/><circle cx="450.2" cy="366.1" r="2.55"/><circle cx="457.2" cy="368.0" r="2.55"/><circle cx="465.8" cy="367.1" r="2.55"/><circle cx="473.7" cy="364.8" r="2.55"/><circle cx="450.8" cy="361.6" r="2.55"/><circle cx="459.1" cy="361.6" r="2.55"/><circle cx="468.0" cy="361.0" r="2.55"/><circle cx="415.2" cy="361.6" r="2.55"/><circle cx="423.5" cy="362.3" r="2.55"/><circle cx="452.1" cy="328.5" r="2.55"/><circle cx="429.8" cy="341.5" r="2.55"/><circle cx="432.1" cy="344.0" r="2.55"/><circle cx="443.8" cy="346.9" r="2.55"/><circle cx="448.5" cy="349.5" r="2.55"/><circle cx="411.4" cy="354.6" r="2.55"/><circle cx="413.3" cy="358.0" r="2.55"/><circle cx="434.9" cy="351.0" r="2.55"/><circle cx="434.3" cy="353.5" r="2.55"/><circle cx="438.1" cy="352.9" r="2.55"/><circle cx="440.6" cy="351.6" r="2.55"/><circle cx="428.9" cy="356.1" r="2.55"/><circle cx="426.0" cy="359.3" r="2.55"/><circle cx="455.7" cy="340.2" r="2.55"/><circle cx="457.2" cy="346.5" r="2.55"/><circle cx="461.0" cy="336.0" r="2.55"/><circle cx="464.2" cy="335.1" r="2.55"/><circle cx="466.7" cy="333.8" r="2.55"/><circle cx="468.0" cy="340.2" r="2.55"/><circle cx="466.1" cy="343.4" r="2.55"/><circle cx="469.3" cy="343.4" r="2.55"/><circle cx="467.4" cy="345.3" r="2.55"/><circle cx="454.0" cy="351.6" r="2.55"/><circle cx="461.6" cy="358.0" r="2.55"/><circle cx="458.5" cy="359.3" r="2.55"/><circle cx="468.0" cy="358.6" r="2.55"/><circle cx="474.4" cy="335.7" r="2.55"/><circle cx="478.8" cy="320.8" r="2.55"/><circle cx="503.3" cy="328.1" r="2.55"/><circle cx="484.2" cy="332.2" r="2.55"/><circle cx="496.6" cy="332.2" r="2.55"/><circle cx="496.0" cy="334.5" r="2.55"/><circle cx="490.9" cy="334.5" r="2.55"/><circle cx="488.4" cy="336.0" r="2.55"/><circle cx="476.3" cy="335.5" r="2.55"/><circle cx="490.9" cy="341.1" r="2.55"/><circle cx="494.1" cy="341.8" r="2.55"/><circle cx="497.3" cy="342.1" r="2.55"/><circle cx="487.5" cy="344.4" r="2.55"/><circle cx="504.0" cy="344.4" r="2.55"/><circle cx="516.1" cy="340.8" r="2.55"/><circle cx="509.1" cy="359.9" r="2.55"/><circle cx="447.3" cy="370.5" r="2.55"/><circle cx="449.5" cy="368.2" r="2.55"/></g>
<line x1="351.3" y1="413.8" x2="519.8" y2="321.3" stroke="#1C94DC" stroke-width="1.7" stroke-dasharray="6.5 5.31"/>
<line x1="323.2" y1="461.7" x2="540.8" y2="276.1" stroke="#404040" stroke-width="1.1"/>
<rect x="323.2" y="276.1" width="217.6" height="185.6" fill="none" stroke="#000" stroke-width="1.6"/>
<path d="M323.2 461.7 v3.9 M323.2 461.7 h-3.6 M354.3 461.7 v3.9 M323.2 435.2 h-3.6 M385.4 461.7 v3.9 M323.2 408.7 h-3.6 M416.5 461.7 v3.9 M323.2 382.2 h-3.6 M447.5 461.7 v3.9 M323.2 355.6 h-3.6 M478.6 461.7 v3.9 M323.2 329.1 h-3.6 M509.7 461.7 v3.9 M323.2 302.6 h-3.6 M540.8 461.7 v3.9 M323.2 276.1 h-3.6" stroke="#000" stroke-width="1.5" fill="none"/>
<text class="tk" x="323.2" y="480.7" text-anchor="middle">1</text>
<text class="tk" x="312.3" y="465.6" text-anchor="end">1</text>
<text class="tk" x="354.3" y="480.7" text-anchor="middle">2</text>
<text class="tk" x="312.3" y="439.1" text-anchor="end">2</text>
<text class="tk" x="385.4" y="480.7" text-anchor="middle">3</text>
<text class="tk" x="312.3" y="412.6" text-anchor="end">3</text>
<text class="tk" x="416.5" y="480.7" text-anchor="middle">4</text>
<text class="tk" x="312.3" y="386.1" text-anchor="end">4</text>
<text class="tk" x="447.5" y="480.7" text-anchor="middle">5</text>
<text class="tk" x="312.3" y="359.5" text-anchor="end">5</text>
<text class="tk" x="478.6" y="480.7" text-anchor="middle">6</text>
<text class="tk" x="312.3" y="333.0" text-anchor="end">6</text>
<text class="tk" x="509.7" y="480.7" text-anchor="middle">7</text>
<text class="tk" x="312.3" y="306.5" text-anchor="end">7</text>
<text class="tk" x="540.8" y="480.7" text-anchor="middle">8</text>
<text class="tk" x="312.3" y="280.0" text-anchor="end">8</text>
<text class="ax" x="432.0" y="496.7" text-anchor="middle" word-spacing="0">Measured LAI</text>
<text class="ax" transform="translate(300.9,368.9) rotate(-90)" text-anchor="middle" word-spacing="0">Estimated LAI</text>
<text class="an" x="329.8" y="291.8">SVM</text>
<text class="an" x="329.8" y="306.0">R<tspan font-size="8.5px" dy="3">P</tspan><tspan dy="-3">² = 0.73</tspan></text>
<text class="an" x="329.8" y="319.9">RMSE<tspan font-size="8.5px" dy="3">P</tspan><tspan dy="-3">=0.60</tspan></text>
<circle cx="510.7" cy="432.7" r="2.4" fill="#97D086"/><circle cx="510.7" cy="451.4" r="2.4" fill="#F77922"/>
<text class="an" x="517.2" y="436.5">Cal</text><text class="an" x="517.2" y="455.0">Val</text>
<text class="cp" x="416.8" y="518.1" text-anchor="middle">(<tspan font-weight="bold">d</tspan>)</text>
</g>
</svg></body></html>
